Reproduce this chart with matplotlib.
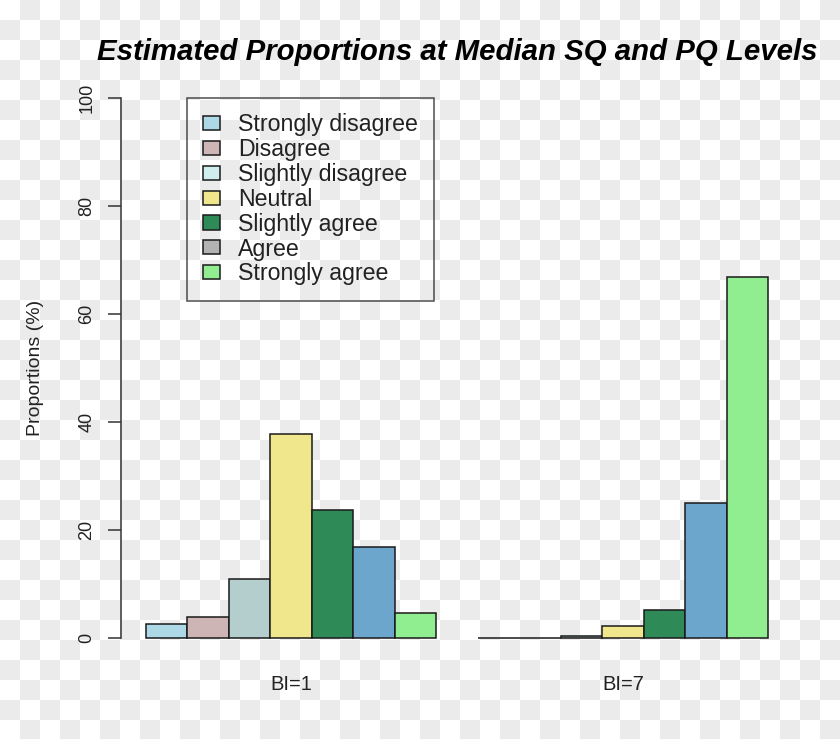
import numpy as np
import matplotlib
matplotlib.use("Agg")
import matplotlib.pyplot as plt
from matplotlib.patches import Patch

plt.rcParams['font.family'] = ['Liberation Sans', 'DejaVu Sans']

categories = ["Strongly disagree", "Disagree", "Slightly disagree", "Neutral",
              "Slightly agree", "Agree", "Strongly agree"]
groups = ["BI=1", "BI=7"]
bi1 = [2.6, 3.9, 10.9, 37.8, 23.7, 16.9, 4.6]
bi7 = [0.05, 0.05, 0.4, 2.2, 5.2, 25.0, 66.9]
bar_colors = ["#add8e6", "#cdb5b5", "#b4cdcd", "#f0e68c", "#2e8b57", "#6ca6cd", "#90ee90"]
legend_colors = ["#add8e6", "#cdb5b5", "#d1eeee", "#f0e68c", "#2e8b57", "#b3b3b3", "#90ee90"]
yticks = [0, 20, 40, 60, 80, 100]

W, H, DPI = 840, 739, 100
fig = plt.figure(figsize=(W / DPI, H / DPI), dpi=DPI)
fig.patch.set_alpha(0)

# transparency checkerboard background
ii, jj = np.indices((H, W))
chk = ((ii // 20 + jj // 20) % 2).astype(float)
bg = np.where(chk[..., None] > 0, np.array([0.925, 0.925, 0.925]), np.array([1.0, 1.0, 1.0]))
fig.figimage(bg, xo=0, yo=0, origin='upper', zorder=-10)

ax = fig.add_axes([121 / W, 79.4 / H, (793 - 121) / W, (662.6 - 79.4) / H])
ax.patch.set_alpha(0)

n = len(categories)
data = [bi1, bi7]
centers = []
for g, vals in enumerate(data):
    start = 1 + g * (n + 1)
    xs = start + np.arange(n) + 0.5
    ax.bar(xs, vals, width=1.0, color=bar_colors, edgecolor="#1a1a1a", linewidth=1.1, zorder=2)
    centers.append(start + n / 2)

ax.set_xlim(0.4, 16.6)
ax.set_ylim(-4, 104)

for s in ["top", "right", "bottom"]:
    ax.spines[s].set_visible(False)
ax.spines["left"].set_bounds(0, 100)
ax.spines["left"].set_linewidth(1.1)
ax.spines["left"].set_color("#333333")

ax.set_yticks(yticks)
ax.set_yticklabels([str(t) for t in yticks], rotation=90, va="center", fontsize=13)
ax.tick_params(axis="y", length=9.5, width=1.1, color="#333333", pad=9, labelcolor="#222222")

ax.set_xticks(centers)
ax.set_xticklabels(groups, fontsize=14.5, color="#222222")
ax.tick_params(axis="x", length=0, pad=11)

ax.set_ylabel("Proportions (%)", fontsize=14, color="#222222", labelpad=25)

fig.text(457 / W, 1 - 52 / H, "Estimated Proportions at Median SQ and PQ Levels",
         ha="center", va="center", fontsize=21.2, fontweight="bold", fontstyle="italic")

handles = [Patch(facecolor=c, edgecolor="#1a1a1a", linewidth=1.1) for c in legend_colors]
leg = ax.legend(handles, categories, loc="upper left", bbox_to_anchor=(2, 100),
                bbox_transform=ax.transData, borderaxespad=0, fontsize=16.7,
                handlelength=0.74, handleheight=0.56, handletextpad=0.8,
                borderpad=0.66, labelspacing=0.08, frameon=True, fancybox=False)
leg.get_frame().set_facecolor("none")
leg.get_frame().set_edgecolor("#222222")
leg.get_frame().set_linewidth(1.1)
for t in leg.get_texts():
    t.set_color("#222222")

fig.savefig("out.png", dpi=DPI)
